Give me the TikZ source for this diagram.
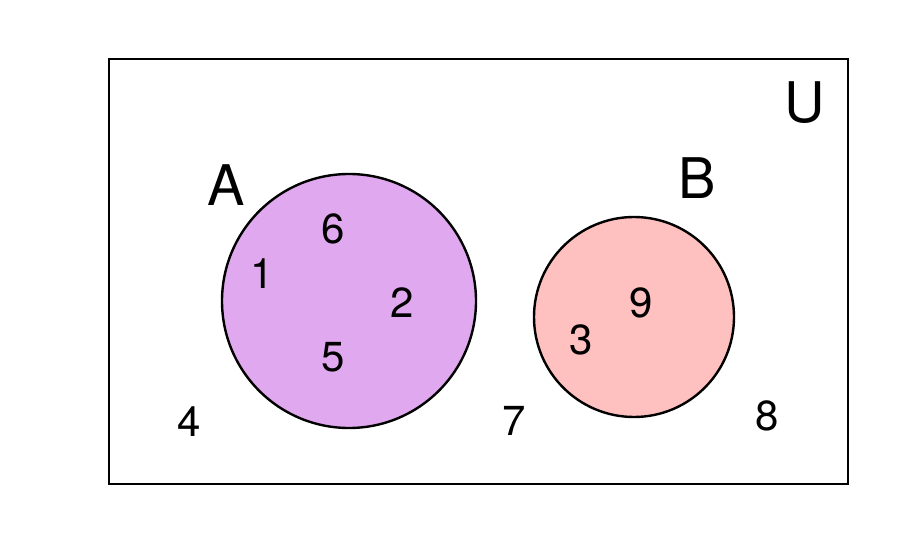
\documentclass[tikz,border=0pt]{standalone}
\usepackage{fontspec}
\setmainfont{TeX Gyre Heros}
\begin{document}
\begin{tikzpicture}[x=0.5pt,y=-0.5pt,line width=1.2pt,
    num/.style={font=\fontsize{21}{21}\selectfont},
    setname/.style={font=\fontsize{28}{28}\selectfont}]
    \useasboundingbox (0,0) rectangle (921,534);
    % 全体集合
    \draw (109,59) rectangle (848,484);
    \node[setname] (U) at (805,103) {U};

    % Aの集合
    \draw[fill={rgb,255:red,224;green,168;blue,238}] (349,301) circle (127);
    \node[setname] (A) at (226,185) {A};

    % Bの集合
    \draw[fill={rgb,255:red,255;green,192;blue,192}] (634,317) circle (100);
    \node[setname] (B) at (697,178) {B};

    % Aの要素
    \node[num] (n6) at (333,229) {6};
    \node[num] (n1) at (262,274) {1};
    \node[num] (n2) at (402,303) {2};
    \node[num] (n5) at (333,357) {5};

    % Bの要素
    \node[num] (n9) at (641,303) {9};
    \node[num] (n3) at (581,340) {3};

    % その他
    \node[num] (n4) at (189,422) {4};
    \node[num] (n7) at (514,421) {7};
    \node[num] (n8) at (767,416) {8};
  \end{tikzpicture}
\end{document}
